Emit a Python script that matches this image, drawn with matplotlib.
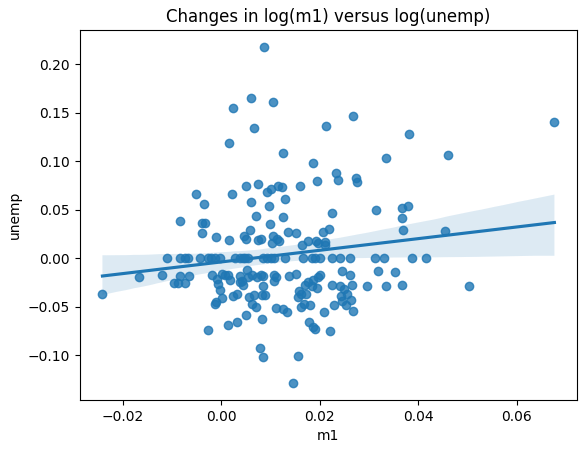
import matplotlib
matplotlib.use("Agg")
import matplotlib.pyplot as plt
import numpy as np
import pandas as pd
import seaborn as sns

# changes in log(m1) / log(unemp)
m1_upper = [0.0086, 0.0061, 0.0106, 0.0024, 0.0267, 0.0676, 0.0213, 0.0066, 0.0381,
            0.0015, 0.0125, 0.0460, 0.0334, 0.0186, 0.0232, 0.0273, 0.0236, 0.0195,
            0.0275, 0.0074, 0.0115, 0.0051, 0.0159, 0.0123, 0.0102, 0.0092, -0.0051,
            0.0021, 0.0130, 0.0061, -0.0035, 0.0096, 0.0379, 0.0367, 0.0315, 0.0224,
            0.0070, 0.0125, 0.0367, -0.0084, -0.0040, -0.0032, 0.0098, 0.0218, 0.0058,
            0.0369, 0.0454, 0.0136, 0.0207, -0.0038, 0.0152, 0.0106, 0.0046, -0.0011,
            0.0050, 0.0113, 0.0081, 0.0074, 0.0015, 0.0117, 0.0177, 0.0192, 0.0211,
            0.0104, 0.0196, 0.0163, 0.0211]
unemp_upper = [0.218, 0.165, 0.161, 0.155, 0.147, 0.140, 0.136, 0.134, 0.128,
               0.119, 0.109, 0.106, 0.103, 0.098, 0.0876, 0.0828, 0.0804, 0.0797,
               0.0784, 0.0766, 0.0749, 0.0745, 0.0745, 0.0732, 0.0711, 0.0680, 0.0663,
               0.0663, 0.0611, 0.0580, 0.0560, 0.0539, 0.0539, 0.0516, 0.0495, 0.0467,
               0.0436, 0.0429, 0.0419, 0.0381, 0.0361, 0.0361, 0.0351, 0.0302, 0.0292,
               0.0289, 0.0281, 0.0268, 0.0268, 0.0261, 0.0258, 0.0235, 0.0225, 0.0220,
               0.0204, 0.0199, 0.0196, 0.0187, 0.0186, 0.0178, 0.0178, 0.0178, 0.0171,
               0.0163, 0.0155, 0.0137, 0.0137]

# quarters where unemployment did not change
m1_flat = [-0.0111, -0.0084, -0.0073, -0.0067, -0.0043, -0.0026, -0.0020, -0.0012,
           -0.0002, 0.0028, 0.0038, 0.0044, 0.0048, 0.0055, 0.0084, 0.0092, 0.0100,
           0.0108, 0.0130, 0.0165, 0.0184, 0.0191, 0.0201, 0.0224, 0.0241, 0.0262,
           0.0313, 0.0330, 0.0387, 0.0416]
unemp_flat = [0.0] * len(m1_flat)

m1_lower = [-0.0241, -0.0166, -0.0121, -0.0096, -0.0087, -0.0074, -0.0083, -0.0065,
            -0.0018, -0.0008, -0.0006, 0.0001, 0.0008, 0.0013, 0.0018, -0.0002, 0.0001,
            -0.0010, -0.0013, 0.0024, 0.0033, 0.0038, 0.0043, 0.0053, 0.0055, 0.0063,
            0.0072, 0.0081, 0.0085, 0.0038, 0.0045, 0.0056, 0.0067, 0.0062, 0.0070,
            0.0050, 0.0033, 0.0013, -0.0027, 0.0083, 0.0078, 0.0084, 0.0155, 0.0145,
            0.0085, 0.0082, 0.0089, 0.0107, 0.0111, 0.0108, 0.0138, 0.0151, 0.0157,
            0.0161, 0.0155, 0.0170, 0.0177, 0.0187, 0.0197, 0.0201, 0.0173, 0.0184,
            0.0194, 0.0167, 0.0162, 0.0180, 0.0112, 0.0126, 0.0133, 0.0209, 0.0178,
            0.0187, 0.0191, 0.0220, 0.0224, 0.0246, 0.0241, 0.0250, 0.0255, 0.0243,
            0.0245, 0.0253, 0.0229, 0.0262, 0.0265, 0.0268, 0.0264, 0.0318, 0.0352,
            0.0296, 0.0334, 0.0367, 0.0502]
unemp_lower = [-0.0371, -0.0190, -0.0172, -0.0258, -0.0258, -0.0250, -0.0179, -0.0177,
               -0.0174, -0.0208, -0.0260, -0.0160, -0.0172, -0.0169, -0.0220, -0.0323,
               -0.0405, -0.0445, -0.0466, -0.0391, -0.0370, -0.0182, -0.0237, -0.0124,
               -0.0193, -0.0175, -0.0193, -0.0169, -0.0182, -0.0244, -0.0272, -0.0399,
               -0.0381, -0.0468, -0.0502, -0.0585, -0.0657, -0.0690, -0.0741, -0.0626,
               -0.0925, -0.1018, -0.1007, -0.1286, -0.0289, -0.0375, -0.0381, -0.0172,
               -0.0188, -0.0229, -0.0182, -0.0165, -0.0332, -0.0371, -0.0394, -0.0278,
               -0.0244, -0.0227, -0.0193, -0.0175, -0.0365, -0.0286, -0.0306, -0.0468,
               -0.0502, -0.0485, -0.0509, -0.0520, -0.0554, -0.0554, -0.0657, -0.0708,
               -0.0732, -0.0753, -0.0272, -0.0128, -0.0286, -0.0313, -0.0365, -0.0389,
               -0.0443, -0.0485, -0.0481, -0.0175, -0.0278, -0.0540, -0.0430, -0.0131,
               -0.0141, -0.0289, -0.0289, -0.0278, -0.0289]

df = pd.DataFrame({
    "m1": m1_upper + m1_flat + m1_lower,
    "unemp": unemp_upper + unemp_flat + unemp_lower,
})

fig, ax = plt.subplots(figsize=(5.87, 4.53), dpi=100)
fig.subplots_adjust(left=0.136, right=0.983, top=0.934, bottom=0.117)

sns.regplot(x="m1", y="unemp", data=df, ax=ax, seed=1)
ax.set_title("Changes in log(m1) versus log(unemp)")

fig.savefig("out.png", dpi=100)
